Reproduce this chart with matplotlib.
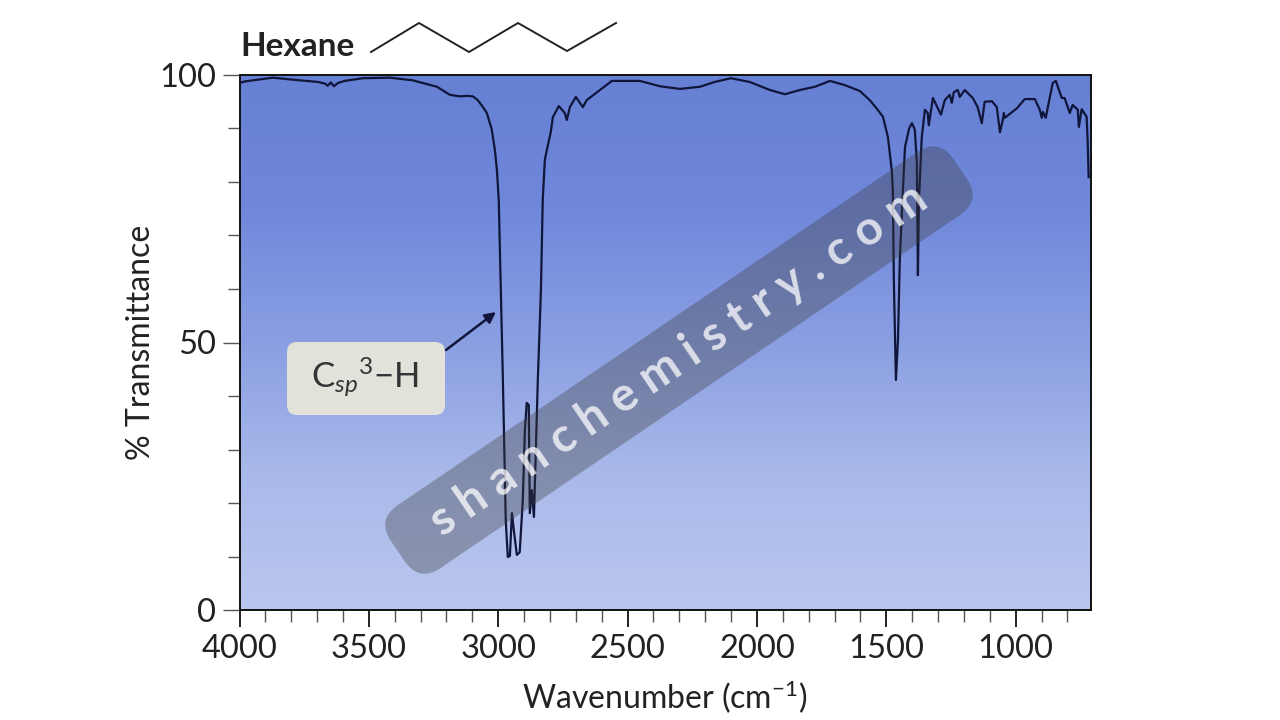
import numpy as np
import matplotlib
matplotlib.use('Agg')
import matplotlib.pyplot as plt
from matplotlib.colors import LinearSegmentedColormap
from matplotlib.patches import FancyBboxPatch
from matplotlib.transforms import Affine2D

plt.rcParams['font.family'] = ['Lato', 'DejaVu Sans']
plt.rcParams['mathtext.fontset'] = 'custom'
plt.rcParams['mathtext.rm'] = 'Lato'
plt.rcParams['mathtext.it'] = 'Lato:italic'

# spectrum, in drawing order (the C-H band doubles back)
wavenumber = [4000, 3979, 3871, 3767, 3697, 3670, 3659, 3647, 3635, 3620, 3593, 3523, 3419, 3330,
              3237, 3187, 3148, 3121, 3098, 3079, 3059, 3044, 3025, 3013, 3005, 2998, 2982, 2971, 2963, 2955, 2947,
              2940, 2928, 2917, 2905, 2897, 2890, 2882, 2878, 2870, 2862, 2847, 2835, 2828, 2820, 2812,
              2797, 2789, 2766, 2743, 2735, 2723, 2700, 2673, 2658, 2607, 2561, 2453, 2375, 2298, 2221,
              2163, 2101, 2028, 1950, 1892, 1834, 1776, 1718, 1660, 1602, 1564, 1540, 1513, 1494, 1479,
              1475, 1471, 1463, 1455, 1448, 1436, 1428, 1412, 1401, 1390, 1382, 1378, 1374, 1363, 1351,
              1340, 1336, 1320, 1289, 1274, 1255, 1247, 1239, 1224, 1216, 1197, 1166, 1147, 1131,
              1120, 1092, 1073, 1061, 1050, 1046, 1042, 995, 965, 926, 907, 899, 895, 884,
              857, 845, 822, 811, 791, 780, 760, 756, 745, 726, 722, 718]
transmittance = [98.5, 98.8, 99.5, 99.0, 98.7, 98.4, 98.0, 98.6, 97.9, 98.5, 98.9, 99.4, 99.5, 99.0,
                 97.8, 96.3, 96.0, 96.1, 96.0, 95.3, 94.0, 92.9, 89.8, 86.0, 82.2, 76.6, 43.0, 16.8, 9.9, 10.1, 18.1,
                 15.0, 10.3, 10.8, 20.6, 33.6, 38.7, 38.3, 18.1, 22.4, 17.4, 43.0, 59.8, 76.6, 84.1, 86.0,
                 89.3, 92.1, 94.2, 92.9, 91.6, 94.0, 95.9, 94.0, 95.3, 97.2, 98.9, 98.9, 97.9, 97.4, 97.8,
                 98.7, 99.4, 98.7, 97.2, 96.4, 97.2, 97.8, 98.9, 98.1, 97.0, 95.3, 93.9, 92.2, 88.4, 82.2,
                 78.5, 61.7, 43.0, 50.5, 65.4, 78.5, 86.5, 90.0, 91.0, 89.8, 83.6, 62.6, 76.6, 88.4, 93.5,
                 92.9, 90.6, 95.7, 92.6, 95.3, 96.3, 94.8, 96.8, 97.2, 95.9, 97.2, 95.7, 94.0, 91.0,
                 95.0, 95.1, 94.0, 89.3, 91.6, 92.9, 92.0, 93.8, 95.5, 95.5, 93.5, 92.0, 93.1, 92.0,
                 98.5, 98.9, 95.7, 95.7, 92.9, 94.4, 93.5, 90.3, 93.6, 92.2, 87.8, 80.9]

x_major = [4000, 3500, 3000, 2500, 2000, 1500, 1000]
y_major = [0, 50, 100]

# hexane skeleton, page pixels
chain_x = [371, 419, 469, 518, 567, 616]
chain_y = [52, 23, 52, 23, 51, 23]

fig = plt.figure(figsize=(12.8, 7.2), dpi=100)
ax = fig.add_axes([239.5 / 1280, 1 - 610 / 720, (1091 - 239.5) / 1280, (610 - 75) / 720])

# blue gradient behind the trace
grad = LinearSegmentedColormap.from_list('bg', ['#6680d4', '#7088db', '#8a9fe2', '#a9b9ea', '#bac6ee'])
ax.imshow(np.linspace(0, 1, 256).reshape(-1, 1), cmap=grad, aspect='auto',
          extent=[4000, 709, 0, 100], zorder=0)

ax.plot(wavenumber, transmittance, color='#10163a', lw=1.6, solid_joinstyle='round', zorder=3)
ax.set_xlim(4000, 709)
ax.set_ylim(0, 100)

ax.set_xticks(x_major)
ax.set_xticks(np.arange(800, 4000, 100), minor=True)
ax.set_yticks(y_major)
ax.set_yticks(np.arange(0, 100, 10), minor=True)
ax.tick_params(axis='x', which='major', length=12, width=1.4, color='#222222', labelsize=23.5,
               labelcolor='#222222', pad=5)
ax.tick_params(axis='x', which='minor', length=8.5, width=1, color='#555555')
ax.tick_params(axis='y', which='major', length=12, width=1, color='#555555', labelsize=23.5,
               labelcolor='#222222', pad=5)
ax.tick_params(axis='y', which='minor', length=8.5, width=1, color='#555555')
for s in ax.spines.values():
    s.set_color('#111111')
    s.set_linewidth(1.4)

ax.set_xlabel('Wavenumber (cm$^{-1}$)', fontsize=23, color='#222222', labelpad=11)
ax.set_ylabel('% Transmittance', fontsize=23, color='#222222', labelpad=2)

# overlay in page pixels for the title, callout and watermark
over = fig.add_axes([0, 0, 1, 1], zorder=5)
over.set_xlim(0, 1280)
over.set_ylim(720, 0)
over.axis('off')

over.text(240, 47, 'Hexane', fontsize=24, fontweight='bold', color='#222222', va='center', ha='left')
over.plot(chain_x, chain_y, color='#222222', lw=1.4)

box = FancyBboxPatch((295, 350), 142, 57, boxstyle='round,pad=8,rounding_size=10',
                     fc='#e2e1da', ec='none')
over.add_patch(box)
over.text(365, 377, r'C$_{sp}$$^{3}$$-$H', fontsize=25, color='#333333', ha='center', va='center')
over.annotate('', xy=(496, 312), xytext=(446, 350),
              arrowprops=dict(arrowstyle='-|>', color='#10163a', lw=1.8, mutation_scale=16,
                              shrinkA=0, shrinkB=0))

# watermark band
angle = 34.2
cx, cy = 679, 360
band = FancyBboxPatch((cx - 336, cy - 34), 672, 68, boxstyle='round,pad=4,rounding_size=26',
                      fc='#3c3c3c', ec='none', alpha=0.35)
band.set_transform(Affine2D().rotate_deg_around(cx, cy, -angle) + over.transData)
over.add_patch(band)
over.text(cx, cy, 's h a n c h e m i s t r y . c o m', fontsize=34, fontweight='bold',
          color='white', alpha=0.75, rotation=angle, rotation_mode='anchor', ha='center', va='center')

fig.savefig('out.png', dpi=100)
